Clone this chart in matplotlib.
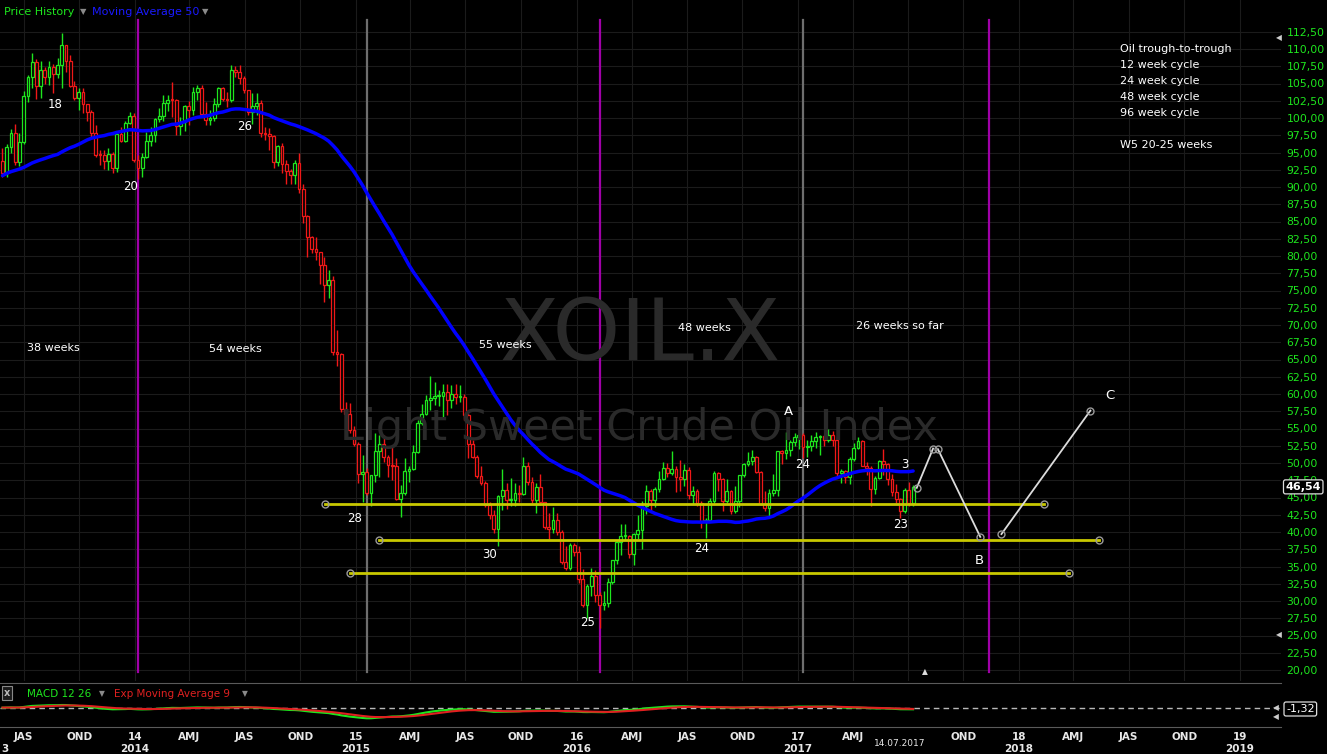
import numpy as np
import pandas as pd
import matplotlib
matplotlib.use("Agg")
import matplotlib.pyplot as plt
import matplotlib.dates as mdates
from matplotlib.transforms import blended_transform_factory

# ---------------- data (weekly candles, XOIL.X) ----------------
pre_closes = [84.03, 79.76, 84.96, 84.45, 87.10, 91.44, 90.13, 91.40, 92.87, 96.01,
              96.15, 96.47, 96.42, 99.00, 92.89, 92.19, 89.88, 91.86, 90.05, 86.28,
              84.86, 86.07, 86.67, 88.28, 88.91, 85.93, 86.73, 88.66, 90.80, 93.09,
              93.56, 95.56, 95.88, 97.77, 95.72, 95.86, 93.13, 90.68, 91.95, 93.45,
              93.71, 97.23, 92.70, 91.29, 88.01, 93.00, 95.61, 96.04, 96.02, 93.84]

closes_2013 = [91.97, 95.77, 97.85, 93.69, 96.56, 103.22, 105.95, 108.05, 104.70, 106.94,
               105.97, 107.46, 106.42, 107.65, 110.53, 108.21, 104.67, 102.87, 103.84, 102.02,
               100.81, 97.85, 94.61, 94.60, 93.84, 94.84, 92.72, 97.65, 96.60, 99.32, 100.32]
highs_2013 = [95.7, 96.3, 98.4, 99.2, 97.8, 103.9, 106.3, 109.4, 108.6, 108.2,
              107.4, 108.3, 107.8, 108.7, 112.3, 110.6, 109.1, 105.3, 104.4, 104.3,
              102.1, 101.2, 99.0, 95.4, 95.4, 95.6, 95.1, 97.8, 98.7, 99.5, 100.8]
lows_2013 = [91.4, 91.4, 95.0, 93.2, 93.0, 96.3, 102.3, 104.3, 102.8, 102.9,
             104.9, 104.8, 103.6, 105.8, 104.3, 106.7, 104.5, 102.6, 101.2, 100.7,
             99.6, 97.3, 94.4, 93.2, 92.6, 92.5, 92.0, 92.2, 96.5, 96.5, 99.1]

closes_2014 = [93.96, 92.72, 94.37, 96.64, 97.49, 99.88, 100.30, 102.20, 102.59, 102.58,
               98.89, 99.46, 101.67, 101.14, 103.74, 104.30, 100.60, 99.76, 99.99, 102.02,
               104.35, 102.71, 102.66, 106.91, 106.70, 105.74, 104.06, 100.83, 101.80, 102.20,
               97.88, 97.65, 97.35, 93.65, 95.96, 93.29, 92.27, 91.80, 93.54, 89.74,
               85.82, 82.75, 81.01, 80.54, 78.65, 75.82, 76.51, 66.15, 65.84, 57.81,
               57.13, 54.73]
highs_2014 = [100.7, 94.6, 94.9, 98.0, 98.7, 100.0, 101.5, 103.3, 103.3, 105.2,
              102.7, 100.2, 101.9, 102.4, 104.5, 104.8, 104.8, 102.3, 101.2, 102.9,
              104.5, 104.5, 103.8, 107.7, 107.5, 107.7, 106.1, 104.1, 103.6, 103.6,
              102.6, 98.7, 98.5, 97.6, 96.1, 96.4, 93.9, 92.6, 93.9, 94.9,
              90.5, 85.9, 82.9, 82.8, 80.6, 79.9, 77.9, 77.1, 69.3, 66.0,
              58.9, 58.7]
lows_2014 = [93.6, 91.2, 91.5, 94.2, 95.9, 96.5, 99.4, 99.6, 101.0, 100.2,
             97.6, 97.5, 98.1, 99.0, 100.4, 102.6, 100.4, 99.0, 99.0, 99.6,
             101.6, 102.4, 101.6, 102.3, 106.0, 105.0, 103.6, 100.4, 99.2, 100.4,
             97.2, 96.8, 95.4, 92.7, 93.0, 92.0, 90.5, 90.5, 90.4, 89.2,
             84.8, 79.9, 80.4, 79.4, 75.9, 73.4, 73.9, 65.7, 64.0, 57.4,
             53.8, 54.3]

closes_2015 = [52.69, 48.36, 48.69, 45.59, 48.24, 51.69, 52.78, 50.81, 49.76, 49.61,
               44.84, 45.72, 48.87, 49.14, 51.64, 55.74, 57.15, 59.15, 59.39, 59.69,
               59.72, 60.30, 59.13, 59.96, 59.61, 59.63, 56.93, 52.74, 50.89, 48.14,
               47.12, 43.87, 42.50, 40.45, 45.22, 46.05, 44.63, 44.68, 45.70, 45.54,
               49.63, 47.26, 44.60, 46.59, 44.29, 40.74, 40.39, 41.71, 39.97, 35.62,
               34.73, 38.10]
highs_2015 = [55.3, 53.0, 51.2, 49.3, 48.3, 54.3, 54.1, 54.1, 51.2, 52.4,
              50.7, 46.8, 50.7, 49.5, 52.6, 56.2, 58.6, 59.9, 62.6, 61.8,
              60.6, 61.5, 61.5, 61.3, 61.5, 61.3, 60.0, 57.2, 53.3, 51.2,
              49.5, 47.4, 44.4, 43.2, 45.4, 49.2, 47.1, 47.8, 47.1, 46.8,
              50.8, 50.2, 48.0, 47.1, 48.4, 44.4, 42.7, 43.6, 42.7, 40.3,
              37.9, 38.4]
lows_2015 = [52.4, 47.1, 44.4, 45.4, 43.7, 47.3, 48.0, 50.2, 48.0, 47.5,
             44.6, 42.2, 45.4, 47.3, 49.0, 51.5, 55.5, 57.0, 57.7, 58.4,
             58.2, 56.5, 57.0, 57.9, 58.6, 58.9, 56.2, 50.7, 50.7, 47.8,
             46.8, 43.6, 41.9, 39.9, 37.9, 43.2, 43.4, 43.7, 43.7, 44.4,
             45.4, 46.8, 44.2, 42.7, 43.9, 40.5, 39.0, 39.9, 39.6, 35.4,
             34.5, 34.5]

closes_2016 = [37.04, 33.16, 29.42, 32.19, 33.62, 30.89, 29.44, 29.64, 32.78, 35.92,
               38.50, 39.44, 39.46, 36.79, 39.72, 40.36, 43.73, 45.92, 44.66, 46.21,
               47.75, 49.33, 48.62, 49.07, 47.98, 47.64, 48.99, 45.41, 45.95, 44.19,
               41.60, 41.80, 44.49, 48.52, 47.64, 44.44, 45.88, 43.03, 44.48, 48.24,
               49.81, 50.35, 50.85, 48.70, 44.07, 43.41, 45.69, 46.06, 51.68, 51.50,
               51.90, 53.02, 53.72]
highs_2016 = [38.4, 37.9, 34.7, 32.4, 34.8, 34.5, 31.3, 31.5, 33.4, 36.0,
              38.7, 41.2, 41.2, 39.6, 39.8, 42.4, 44.5, 46.8, 46.2, 46.5,
              48.9, 50.2, 50.0, 51.7, 49.5, 50.5, 49.8, 49.4, 46.7, 46.3,
              44.5, 42.1, 44.9, 48.8, 48.7, 47.8, 47.7, 46.1, 46.6, 48.3,
              50.0, 51.6, 51.9, 51.0, 48.8, 45.9, 46.3, 48.4, 51.8, 51.9,
              54.5, 53.3, 54.3]
lows_2016 = [36.5, 32.6, 29.1, 27.6, 30.7, 29.9, 26.1, 28.7, 29.1, 32.4,
             35.3, 36.7, 38.9, 36.3, 35.2, 39.0, 37.6, 42.6, 43.0, 43.6,
             45.8, 47.5, 48.0, 48.3, 45.8, 46.0, 46.7, 44.8, 44.0, 43.8,
             40.6, 39.2, 41.5, 44.2, 46.0, 43.0, 44.2, 42.6, 42.8, 43.6,
             47.9, 49.6, 49.7, 48.5, 43.9, 43.0, 42.2, 45.2, 45.2, 49.9,
             50.6, 51.0, 52.4]

closes_2017 = [53.99, 52.37, 52.42, 53.17, 53.83, 53.86, 53.40, 53.99, 53.33, 48.49,
               48.78, 47.97, 50.60, 52.24, 53.18, 49.62, 49.33, 46.22, 47.84, 50.33,
               49.80, 47.66, 45.83, 44.74, 43.01, 46.04, 44.23, 46.54]
highs_2017 = [55.2, 54.3, 53.3, 54.0, 54.5, 54.1, 54.0, 54.9, 54.6, 53.7,
              49.1, 49.0, 50.9, 52.9, 53.8, 53.4, 50.2, 49.6, 48.1, 50.5,
              52.0, 50.0, 48.4, 46.9, 45.0, 46.4, 47.3, 46.8]
lows_2017 = [52.1, 50.7, 50.9, 51.8, 52.2, 51.2, 52.4, 53.0, 52.5, 48.1,
             47.1, 47.1, 47.0, 50.3, 52.0, 49.5, 48.2, 43.8, 45.5, 47.7,
             48.2, 46.8, 45.2, 44.2, 42.1, 42.8, 43.8, 43.8]

last_week_friday = "2017-07-14"
ma_window = 50
macd_fast, macd_slow, macd_signal = 12, 26, 9
macd_last_label = "-1,32"

price_ticks = [20.0, 22.5, 25.0, 27.5, 30.0, 32.5, 35.0, 37.5, 40.0, 42.5, 45.0, 47.5,
               50.0, 52.5, 55.0, 57.5, 60.0, 62.5, 65.0, 67.5, 70.0, 72.5, 75.0, 77.5,
               80.0, 82.5, 85.0, 87.5, 90.0, 92.5, 95.0, 97.5, 100.0, 102.5, 105.0,
               107.5, 110.0, 112.5]

# cycle lines / support levels / projection (annotations drawn on the chart)
magenta_cycle_dates = ["2014-01-06", "2016-02-08", "2017-11-13"]
grey_cycle_dates = ["2015-01-19", "2017-01-09"]
support_levels = [44.0, 38.9, 34.1]
support_start = ["2014-11-11", "2015-02-09", "2014-12-22"]
support_end = ["2018-02-11", "2018-05-13", "2018-03-24"]
proj_dates = [["2017-07-16", "2017-08-12"], ["2017-08-20", "2017-10-29"], ["2017-12-03", "2018-04-29"]]
proj_prices = [[46.4, 52.1], [52.0, 39.3], [39.7, 57.6]]

quarter_dates = ["2013-07-01", "2013-10-01", "2014-01-01", "2014-04-01", "2014-07-01", "2014-10-01",
                 "2015-01-01", "2015-04-01", "2015-07-01", "2015-10-01", "2016-01-01", "2016-04-01",
                 "2016-07-01", "2016-10-01", "2017-01-01", "2017-04-01", "2017-07-01", "2017-10-01",
                 "2018-01-01", "2018-04-01", "2018-07-01", "2018-10-01", "2019-01-01"]
quarter_labels = ["JAS", "OND", "14", "AMJ", "JAS", "OND", "15", "AMJ", "JAS", "OND", "16", "AMJ",
                  "JAS", "OND", "17", "AMJ", "14.07.2017", "OND", "18", "AMJ", "JAS", "OND", "19"]
year_dates = ["2014-01-01", "2015-01-01", "2016-01-01", "2017-01-01", "2018-01-01", "2019-01-01"]
year_labels = ["2014", "2015", "2016", "2017", "2018", "2019"]

cycle_numbers = [("18", 55, 105), ("20", 131, 186), ("26", 245, 126), ("28", 355, 519),
                 ("30", 490, 554), ("25", 588, 622), ("24", 702, 548), ("24", 803, 465),
                 ("3", 905, 464), ("23", 901, 525)]
wave_letters = [("A", 788, 411), ("B", 979, 560), ("C", 1110, 396)]
cycle_lengths = [("38 weeks", 53, 348), ("54 weeks", 235, 349), ("55 weeks", 505, 345),
                 ("48 weeks", 704, 328), ("26 weeks so far", 900, 326)]
notes = ["Oil trough-to-trough", "12 week cycle", "24 week cycle", "48 week cycle",
         "96 week cycle", "", "W5 20-25 weeks"]

# ---------------- assemble ----------------
closes = closes_2013 + closes_2014 + closes_2015 + closes_2016 + closes_2017
highs = highs_2013 + highs_2014 + highs_2015 + highs_2016 + highs_2017
lows = lows_2013 + lows_2014 + lows_2015 + lows_2016 + lows_2017
n = len(closes)
fridays = pd.date_range(end=last_week_friday, periods=n, freq="W-FRI")
week_start = fridays - pd.Timedelta(days=4)
x = mdates.date2num(week_start.to_pydatetime())

c = np.array(closes)
o = np.array([pre_closes[-1]] + closes[:-1])
hi = np.array(highs)
lo = np.array(lows)

allc = pd.Series(pre_closes + closes)
ma = allc.rolling(ma_window).mean().values[-n:]
ema_f = allc.ewm(span=macd_fast, adjust=False).mean()
ema_s = allc.ewm(span=macd_slow, adjust=False).mean()
macd = (ema_f - ema_s)
sig = macd.ewm(span=macd_signal, adjust=False).mean()
macd_v = macd.values[-n:]
sig_v = sig.values[-n:]

# ---------------- figure ----------------
W, H = 1327, 754
BG = "black"
GREEN = "#1ee61e"
RED = "#f01818"
fig = plt.figure(figsize=(W / 100, H / 100), dpi=100, facecolor=BG)
plt.rcParams["font.family"] = ["DejaVu Sans"]

def fx(px):
    return px / W

def fy(py):
    return 1 - py / H

ax = fig.add_axes([0, fy(681), fx(1281), 681 / H], facecolor=BG)
ax2 = fig.add_axes([0, fy(727), fx(1281), 44 / H], facecolor=BG)

base = mdates.date2num(pd.Timestamp("2014-01-01").to_pydatetime())
ppd = 221 / 365.25  # pixels per day
xl = (base - 135 / ppd, base + (1281 - 135) / ppd)

def dnum(s):
    return mdates.date2num(pd.Timestamp(s).to_pydatetime())

def xpix(d):
    return 135 + (dnum(d) - base) * ppd

# main axes
ax.set_xlim(*xl)
ax.set_ylim(20 + (670 - 681) / 6.9, 20 + 670 / 6.9)
for s in ax.spines.values():
    s.set_visible(False)
ax.set_yticks(price_ticks)
ax.set_yticklabels([f"{v:.2f}".replace(".", ",") for v in price_ticks])
ax.yaxis.tick_right()
ax.tick_params(axis="y", length=0, pad=4, labelcolor=GREEN, labelsize=7.8)
qn = [dnum(d) for d in quarter_dates]
ax.set_xticks(qn)
ax.tick_params(axis="x", length=0, labelbottom=False)
ax.grid(True, color="#1b1b1b", lw=0.8, zorder=0)
ax.set_axisbelow(True)

# watermark
ax.text(0.5 * (xl[0] + xl[1]) + 0.0, 0, "", transform=ax.transData)
fig.text(fx(640), fy(337), "XOIL.X", color="#2a2a2a", fontsize=62, ha="center", va="center", zorder=1)
fig.text(fx(639), fy(428), "Light Sweet Crude Oil Index", color="#2a2a2a", fontsize=31,
         ha="center", va="center", zorder=1)

# cycle vertical lines
for d in magenta_cycle_dates:
    ax.axvline(dnum(d), ymin=1 - 672 / 681, ymax=1 - 20 / 681, color="#a000a8", lw=1.6, zorder=2)
for d in grey_cycle_dates:
    ax.axvline(dnum(d), ymin=1 - 672 / 681, ymax=1 - 20 / 681, color="#6e6e6e", lw=1.6, zorder=2)

# candles
cols = np.where(c >= o, GREEN, RED)
ax.vlines(x, lo, hi, colors=cols, lw=1.0, zorder=3)
body_lo = np.minimum(o, c)
body_h = np.maximum(np.abs(c - o), 0.15)
ax.bar(x, body_h, bottom=body_lo, width=4.6, color=BG, edgecolor=cols, linewidth=0.9, zorder=4)

# moving average
ax.plot(x, ma, color="#0000ff", lw=2.5, zorder=5, solid_capstyle="round")

# support levels
for lvl, s0, s1 in zip(support_levels, support_start, support_end):
    ax.plot([dnum(s0), dnum(s1)], [lvl, lvl], color="#c8c800", lw=2.0, zorder=6)
    ax.plot([dnum(s0), dnum(s1)], [lvl, lvl], ls="none", marker="o", ms=5, mfc="none",
            mec="#9a9a9a", mew=1.0, zorder=7)

# projection path
for ds, ps in zip(proj_dates, proj_prices):
    xs = [dnum(d) for d in ds]
    ax.plot(xs, ps, color="#dcdcdc", lw=1.3, zorder=6)
    ax.plot(xs, ps, ls="none", marker="o", ms=5, mfc="none", mec="#9a9a9a", mew=1.0, zorder=7)

# last price marker
btr = blended_transform_factory(ax.transAxes, ax.transData)
ax.text(1.0035, c[-1], f"{c[-1]:.2f}".replace(".", ","), transform=btr, ha="left", va="center",
        color="white", fontsize=8, fontweight="bold", clip_on=False, zorder=10,
        bbox=dict(boxstyle="round,pad=0.18", fc="black", ec="#dddddd", lw=0.9))

# MACD panel
ax2.set_xlim(*xl)
mn = abs(np.min(macd_v))
ax2.set_ylim(-18.7 / 10 * mn, 25.3 / 10 * mn)
for k, s in ax2.spines.items():
    s.set_visible(k in ("top", "bottom"))
    s.set_color("#5a5a5a")
ax2.set_xticks([])
ax2.set_yticks([])
ax2.axhline(0, color="#b8b8b8", lw=1.0, ls=(0, (4, 3)), zorder=2)
ax2.plot(x, macd_v, color=GREEN, lw=1.5, zorder=3)
ax2.plot(x, sig_v, color="#e02020", lw=1.5, zorder=4)
fig.text(fx(1286), fy(709), macd_last_label, color="white", fontsize=8, ha="left", va="center",
         bbox=dict(boxstyle="round,pad=0.18", fc="black", ec="#dddddd", lw=0.9))

# legends
fig.text(fx(4), fy(12), "Price History", color=GREEN, fontsize=8, va="center")
fig.text(fx(80), fy(12), "\u25bc", color="#8a8a8a", fontsize=6, va="center")
fig.text(fx(92), fy(12), "Moving Average 50", color="#1a1aff", fontsize=8, va="center")
fig.text(fx(202), fy(12), "\u25bc", color="#8a8a8a", fontsize=6, va="center")
fig.text(fx(7), fy(693), "x", color="#bbbbbb", fontsize=7, fontweight="bold", ha="center", va="center",
         bbox=dict(boxstyle="square,pad=0.2", fc="#1a1a1a", ec="#888888", lw=0.8))
fig.text(fx(27), fy(694), "MACD 12 26", color=GREEN, fontsize=7.5, va="center")
fig.text(fx(99), fy(694), "\u25bc", color="#8a8a8a", fontsize=5.5, va="center")
fig.text(fx(114), fy(694), "Exp Moving Average 9", color="#e02020", fontsize=7.5, va="center")
fig.text(fx(242), fy(694), "\u25bc", color="#8a8a8a", fontsize=5.5, va="center")

# small scale arrows
for (px_, py_) in [(1279, 38), (1279, 635), (1276, 708), (1276, 717)]:
    fig.text(fx(px_), fy(py_), "\u25c0", color="#cccccc", fontsize=5.5, ha="center", va="center")
fig.text(fx(925), fy(672), "\u25b2", color="#dddddd", fontsize=5.5, ha="center", va="center")

# chart annotations
for t, px_, py_ in cycle_numbers:
    fig.text(fx(px_), fy(py_), t, color="white", fontsize=8.5, ha="center", va="center", zorder=8)
for t, px_, py_ in wave_letters:
    fig.text(fx(px_), fy(py_), t, color="white", fontsize=9.5, ha="center", va="center", zorder=8)
for t, px_, py_ in cycle_lengths:
    fig.text(fx(px_), fy(py_), t, color="white", fontsize=8, ha="center", va="center", zorder=8)
for i, t in enumerate(notes):
    if t:
        fig.text(fx(1120), fy(49 + 16 * i), t, color="white", fontsize=8, ha="left", va="center")

# date axis
for d, t in zip(quarter_dates, quarter_labels):
    if t == "14.07.2017":
        fig.text(fx(900), fy(743), t, color="#e8e8e8", fontsize=6.5, ha="center", va="center")
    else:
        fig.text(fx(xpix(d)), fy(737), t, color="#e8e8e8", fontsize=7.5, fontweight="bold",
                 ha="center", va="center")
for d, t in zip(year_dates, year_labels):
    fig.text(fx(xpix(d)), fy(749), t, color="#e8e8e8", fontsize=7.5, fontweight="bold",
             ha="center", va="center")
fig.text(fx(5), fy(749), "3", color="#e8e8e8", fontsize=7.5, fontweight="bold", ha="center", va="center")

fig.savefig("out.png", dpi=100, facecolor=BG)
